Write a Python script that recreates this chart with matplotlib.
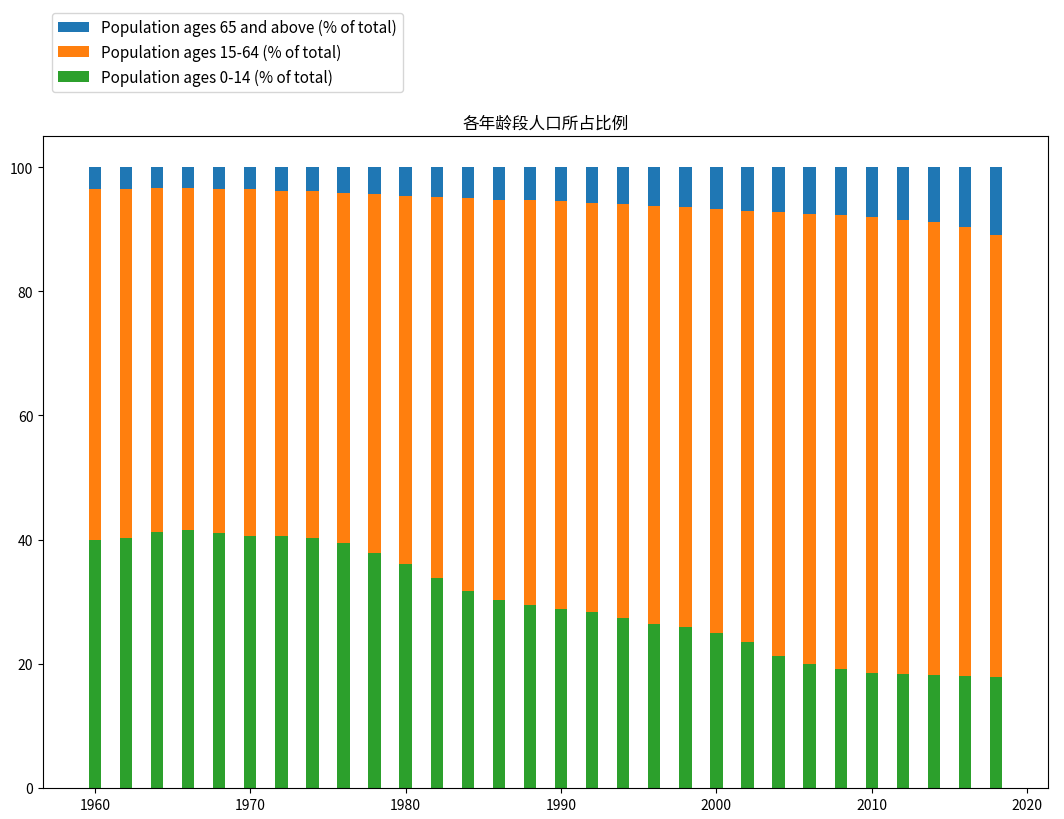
import numpy as np
import matplotlib.pyplot as plt

plt.rcParams['font.family'] = ['Noto Sans CJK SC', 'DejaVu Sans']
plt.rcParams['axes.unicode_minus'] = False

# values (every 2 years)
years = np.arange(1960, 2020, 2)
ages_0_14 = [39.9, 40.3, 41.3, 41.5, 41.1, 40.6, 40.6, 40.3, 39.5, 37.9,
             36.0, 33.8, 31.7, 30.3, 29.5, 28.8, 28.3, 27.4, 26.4, 25.9,
             25.0, 23.5, 21.3, 19.9, 19.1, 18.6, 18.4, 18.2, 18.1, 17.9]
top_15_64 = [96.4, 96.4, 96.6, 96.6, 96.4, 96.4, 96.2, 96.2, 95.9, 95.7,
             95.4, 95.2, 95.0, 94.7, 94.7, 94.5, 94.25, 94.0, 93.7, 93.5,
             93.2, 93.0, 92.75, 92.5, 92.2, 92.0, 91.5, 91.1, 90.3, 89.1]

ages_0_14 = np.array(ages_0_14)
ages_15_64 = np.array(top_15_64) - ages_0_14
ages_65 = 100 - np.array(top_15_64)

fig = plt.figure(figsize=(10.64, 8.2), dpi=100)
ax = fig.add_axes([43/1064, 1-789/820, 1005/1064, 652/820])

b1 = ax.bar(years, ages_0_14, color='#2ca02c', label='Population ages 0-14 (% of total)')
b2 = ax.bar(years, ages_15_64, bottom=ages_0_14, color='#ff7f0e',
            label='Population ages 15-64 (% of total)')
b3 = ax.bar(years, ages_65, bottom=ages_0_14 + ages_15_64, color='#1f77b4',
            label='Population ages 65 and above (% of total)')

ax.set_title('各年龄段人口所占比例', fontsize=12)
ax.tick_params(labelsize=10)

fig.legend(handles=[b3, b2, b1], loc='upper left',
           bbox_to_anchor=(52/1064, 1-14/820), borderaxespad=0, fontsize=11)

fig.savefig('out.png')
